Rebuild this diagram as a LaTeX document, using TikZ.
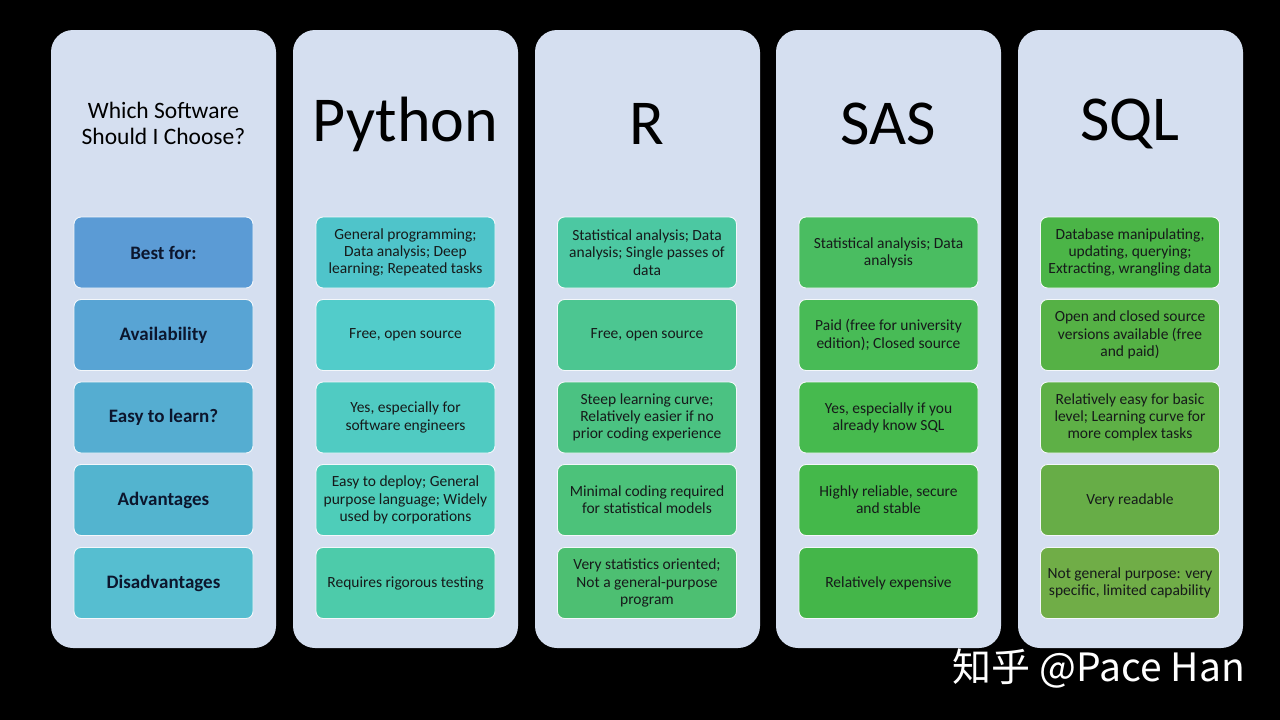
\documentclass[tikz,border=0pt]{standalone}
\usepackage{fontspec}
\setmainfont{Carlito}
\newfontfamily\cjk{Noto Sans CJK SC}
\definecolor{colbg}{RGB}{213,223,240}
\definecolor{hdtext}{RGB}{12,22,45}
\definecolor{celltext}{RGB}{22,26,26}
\definecolor{ca1}{RGB}{91,155,213}
\definecolor{ca2}{RGB}{88,164,212}
\definecolor{ca3}{RGB}{85,173,209}
\definecolor{ca4}{RGB}{83,180,207}
\definecolor{ca5}{RGB}{86,190,208}
\definecolor{cb1}{RGB}{79,196,202}
\definecolor{cb2}{RGB}{82,204,202}
\definecolor{cb3}{RGB}{80,203,194}
\definecolor{cb4}{RGB}{78,205,185}
\definecolor{cb5}{RGB}{77,203,170}
\definecolor{cc1}{RGB}{76,200,162}
\definecolor{cc2}{RGB}{76,198,145}
\definecolor{cc3}{RGB}{75,194,130}
\definecolor{cc4}{RGB}{76,194,122}
\definecolor{cc5}{RGB}{77,191,114}
\definecolor{cd1}{RGB}{74,189,97}
\definecolor{cd2}{RGB}{72,187,86}
\definecolor{cd3}{RGB}{70,186,78}
\definecolor{cd4}{RGB}{68,184,74}
\definecolor{cd5}{RGB}{68,182,73}
\definecolor{ce1}{RGB}{75,181,71}
\definecolor{ce2}{RGB}{85,177,69}
\definecolor{ce3}{RGB}{94,176,70}
\definecolor{ce4}{RGB}{103,173,71}
\definecolor{ce5}{RGB}{112,173,71}
\tikzset{
  colpanel/.style={fill=colbg, rounded corners=22pt},
  cell/.style={rounded corners=7pt, minimum width=179pt, minimum height=71pt,
    draw=white!75!colbg, line width=0.9pt, align=center, inner sep=2pt,
    font=\fontsize{15.5}{17.2}\selectfont, text=celltext},
  hcell/.style={cell, font=\fontsize{19}{22}\selectfont\bfseries, text=hdtext},
  title/.style={font=\fontsize{64}{70}\selectfont, text=black},
}
\begin{document}
\begin{tikzpicture}[x=1pt,y=-1pt]
\useasboundingbox (0,0) rectangle (1280,720);
\fill[black] (0,0) rectangle (1280,720);
% column panels
\foreach \xl in {51,293,535,776,1018}{
  \fill[colpanel] (\xl,30) rectangle ++(225,618);
}
% headers
\node[font=\fontsize{23.5}{26}\selectfont, align=center, text=black] (h0) at (163.5,123) {Which Software\\Should I Choose?};
\node[title] (h1) at (405.5,124) {Python};
\node[title] (h2) at (647,124) {R};
\node[title] (h3) at (888.5,124) {SAS};
\node[title] (h4) at (1130,124) {SQL};
% column 1
\node[hcell, fill=ca1] (a1) at (163.5,252.5) {Best for:};
\node[hcell, fill=ca2] (a2) at (163.5,335) {Availability};
\node[hcell, fill=ca3] (a3) at (163.5,417.5) {Easy to learn?};
\node[hcell, fill=ca4] (a4) at (163.5,500) {Advantages};
\node[hcell, fill=ca5] (a5) at (163.5,583) {Disadvantages};
% Python
\node[cell, fill=cb1] (b1) at (405.5,252.5) {General programming;\\Data analysis; Deep\\learning; Repeated tasks};
\node[cell, fill=cb2] (b2) at (405.5,335) {Free, open source};
\node[cell, fill=cb3] (b3) at (405.5,417.5) {Yes, especially for\\software engineers};
\node[cell, fill=cb4] (b4) at (405.5,500) {Easy to deploy; General\\purpose language; Widely\\used by corporations};
\node[cell, fill=cb5] (b5) at (405.5,583) {Requires rigorous testing};
% R
\node[cell, fill=cc1] (c1) at (647,252.5) {Statistical analysis; Data\\analysis; Single passes of\\data};
\node[cell, fill=cc2] (c2) at (647,335) {Free, open source};
\node[cell, fill=cc3] (c3) at (647,417.5) {Steep learning curve;\\Relatively easier if no\\prior coding experience};
\node[cell, fill=cc4] (c4) at (647,500) {Minimal coding required\\for statistical models};
\node[cell, fill=cc5] (c5) at (647,583) {Very statistics oriented;\\Not a general-purpose\\program};
% SAS
\node[cell, fill=cd1] (d1) at (888.5,252.5) {Statistical analysis; Data\\analysis};
\node[cell, fill=cd2] (d2) at (888.5,335) {Paid (free for university\\edition); Closed source};
\node[cell, fill=cd3] (d3) at (888.5,417.5) {Yes, especially if you\\already know SQL};
\node[cell, fill=cd4] (d4) at (888.5,500) {Highly reliable, secure\\and stable};
\node[cell, fill=cd5] (d5) at (888.5,583) {Relatively expensive};
% SQL
\node[cell, fill=ce1] (e1) at (1130,252.5) {Database manipulating,\\updating, querying;\\Extracting, wrangling data};
\node[cell, fill=ce2] (e2) at (1130,335) {Open and closed source\\versions available (free\\and paid)};
\node[cell, fill=ce3] (e3) at (1130,417.5) {Relatively easy for basic\\level; Learning curve for\\more complex tasks};
\node[cell, fill=ce4] (e4) at (1130,500) {Very readable};
\node[cell, fill=ce5] (e5) at (1130,583) {Not general purpose: very\\specific, limited capability};
% watermark
\node[anchor=east, text=white, font=\cjk\fontsize{39}{42}\selectfont, inner sep=0pt] (wm) at (1245,668) {知乎 @Pace Han};
\end{tikzpicture}
\end{document}
